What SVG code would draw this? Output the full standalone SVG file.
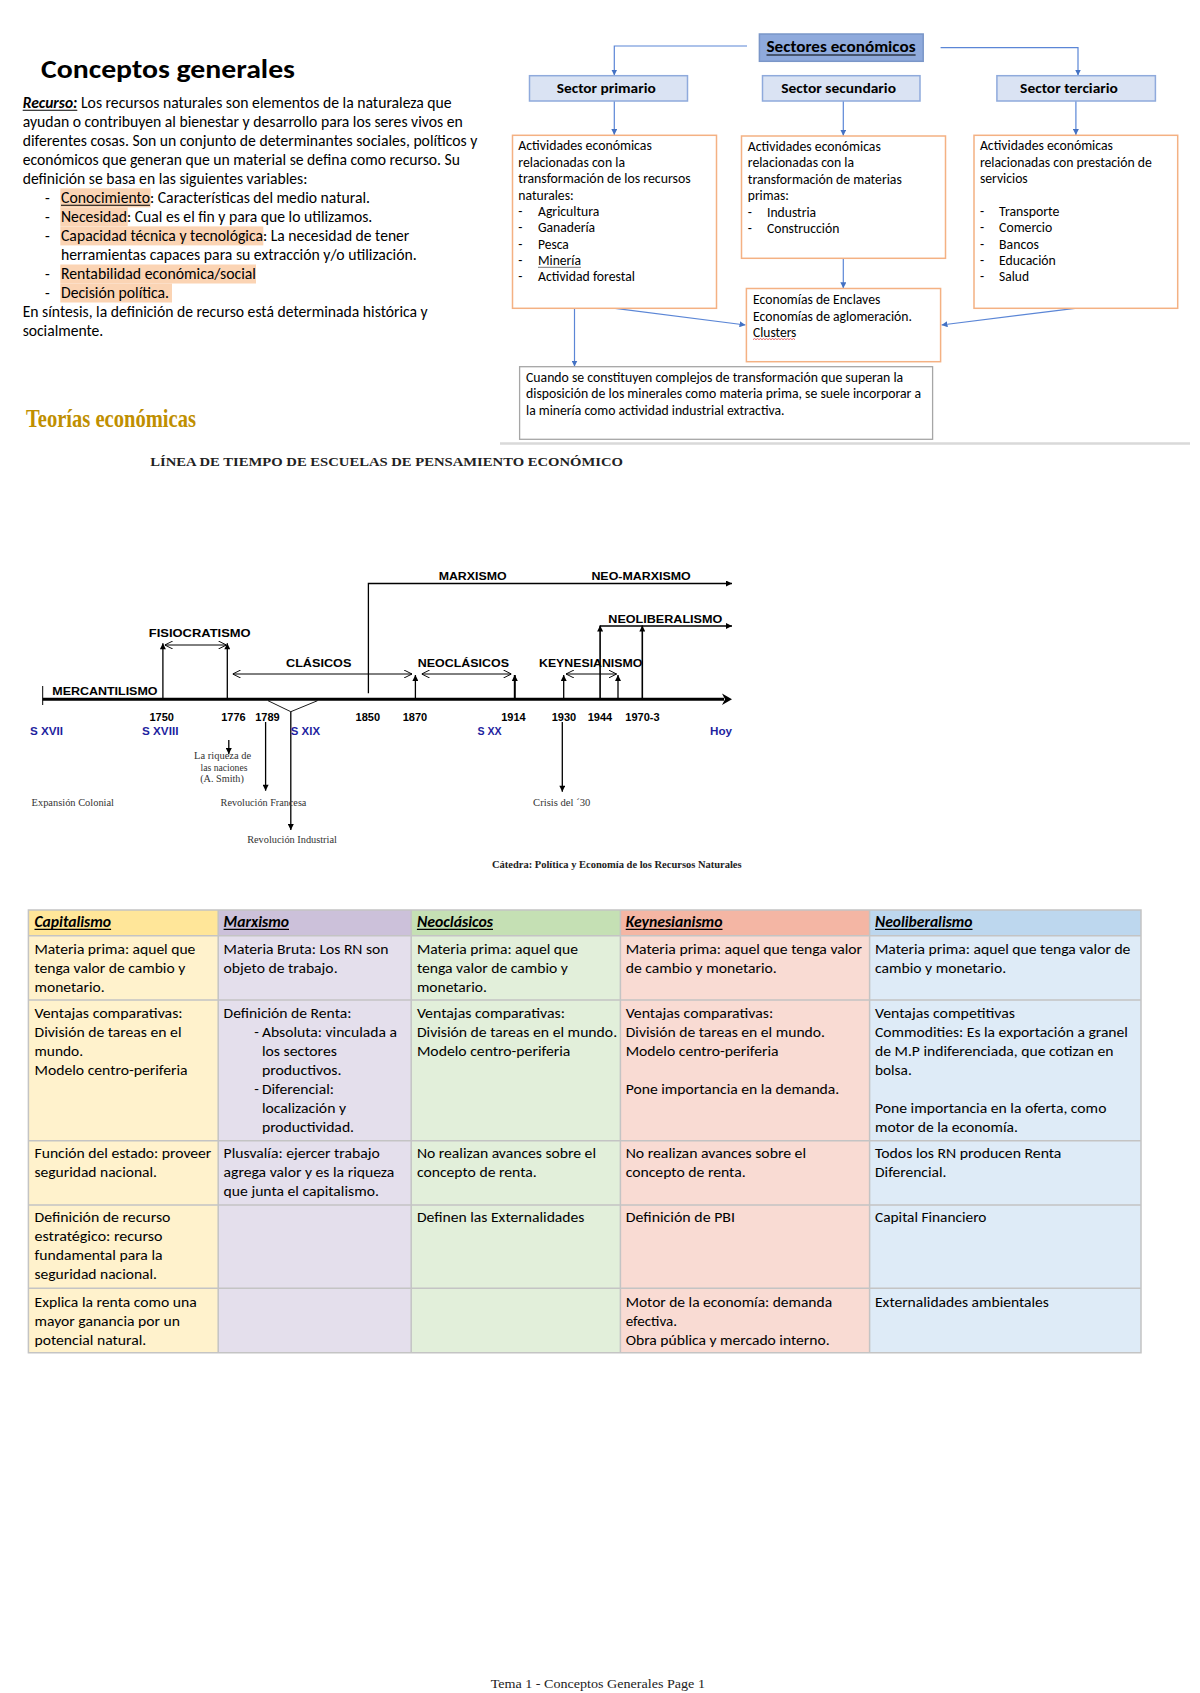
<svg xmlns="http://www.w3.org/2000/svg" width="1200" height="1693" viewBox="0 0 1200 1693">
<style>
text{font-family:Carlito,Lato,"Liberation Sans",sans-serif;fill:#000}
.t{font-size:15.5px}
.s{font-size:13.5px}
.sh{font-size:14.5px;font-weight:bold}
.tl{font-family:"Liberation Sans",Arial,sans-serif;font-size:11px;font-weight:bold}
.cen{font-family:"Liberation Sans",Arial,sans-serif;font-size:11px;font-weight:bold;fill:#1F1F9F}
.ser{font-family:"Liberation Serif","Times New Roman",serif;font-size:11px;fill:#333}
.tb{font-size:15px}
.th{font-size:15px;font-weight:bold;font-style:italic}
.hl{fill:#FBD4B4}
.ul{stroke:#000;stroke-width:1.1}
.box{fill:#fff;stroke:#F4B183;stroke-width:1.5}
.sec{fill:#DAE3F3;stroke:#8FAADC;stroke-width:1.5}
.bc{fill:none;stroke:#5B86D6;stroke-width:1.2}
.k{fill:none;stroke:#000;stroke-width:1.3}
.grid{fill:none;stroke:#C4C4C4;stroke-width:1.5}
</style>
<defs>
<marker id="ab" viewBox="0 0 10 10" refX="10" refY="5" markerWidth="6" markerHeight="6" markerUnits="userSpaceOnUse" orient="auto"><path d="M0,0 L10,5 L0,10 z" fill="#4472C4"/></marker>
<marker id="ak" viewBox="0 0 10 10" refX="10" refY="5" markerWidth="7" markerHeight="6" markerUnits="userSpaceOnUse" orient="auto"><path d="M0,0 L10,5 L0,10 z" fill="#000"/></marker>
<marker id="ao" viewBox="0 0 10 10" refX="10" refY="5" markerWidth="8" markerHeight="8" markerUnits="userSpaceOnUse" orient="auto-start-reverse"><path d="M0,0 L10,5 L0,10" fill="none" stroke="#000" stroke-width="1.2"/></marker>
</defs>

<!-- Conceptos generales -->
<g id="conceptos">
<text x="41" y="78" style="font-size:27px;font-weight:900" textLength="254" lengthAdjust="spacingAndGlyphs">Conceptos generales</text>
<rect class="hl" x="60.3" y="188.3" width="90.4" height="19"/>
<rect class="hl" x="60.3" y="207.3" width="67.4" height="19"/>
<rect class="hl" x="60.3" y="226.4" width="203" height="19"/>
<rect class="hl" x="60.3" y="264.5" width="195.7" height="19"/>
<rect class="hl" x="60.3" y="283.5" width="111.7" height="19"/>
<text class="t" x="22.7" y="107.5" style="font-weight:bold;font-style:italic" textLength="54.7" lengthAdjust="spacingAndGlyphs">Recurso:</text>
<line class="ul" x1="22.7" y1="110.3" x2="77.3" y2="110.3"/>
<text class="t" x="81" y="107.5" textLength="370.7" lengthAdjust="spacingAndGlyphs">Los recursos naturales son elementos de la naturaleza que</text>
<text class="t" x="22.7" y="126.6" textLength="440" lengthAdjust="spacingAndGlyphs">ayudan o contribuyen al bienestar y desarrollo para los seres vivos en</text>
<text class="t" x="22.7" y="145.6" textLength="454.7" lengthAdjust="spacingAndGlyphs">diferentes cosas. Son un conjunto de determinantes sociales, políticos y</text>
<text class="t" x="22.7" y="164.7" textLength="437.3" lengthAdjust="spacingAndGlyphs">económicos que generan que un material se defina como recurso. Su</text>
<text class="t" x="22.7" y="183.7" textLength="284.7" lengthAdjust="spacingAndGlyphs">definición se basa en las siguientes variables:</text>
<text class="t" x="45" y="202.8">-</text>
<text class="t" x="61" y="202.8" textLength="89" lengthAdjust="spacingAndGlyphs">Conocimiento</text>
<line class="ul" x1="61" y1="205.3" x2="150" y2="205.3"/>
<text class="t" x="150" y="202.8" textLength="220" lengthAdjust="spacingAndGlyphs">: Características del medio natural.</text>
<text class="t" x="45" y="221.8">-</text>
<text class="t" x="61" y="221.8" textLength="66" lengthAdjust="spacingAndGlyphs">Necesidad</text>
<text class="t" x="127" y="221.8" textLength="245.3" lengthAdjust="spacingAndGlyphs">: Cual es el fin y para que lo utilizamos.</text>
<text class="t" x="45" y="240.9">-</text>
<text class="t" x="61" y="240.9" textLength="202" lengthAdjust="spacingAndGlyphs">Capacidad técnica y tecnológica</text>
<text class="t" x="263" y="240.9" textLength="146.3" lengthAdjust="spacingAndGlyphs">: La necesidad de tener</text>
<text class="t" x="61" y="259.9" textLength="355.7" lengthAdjust="spacingAndGlyphs">herramientas capaces para su extracción y/o utilización.</text>
<text class="t" x="45" y="279">-</text>
<text class="t" x="61" y="279" textLength="195" lengthAdjust="spacingAndGlyphs">Rentabilidad económica/social</text>
<text class="t" x="45" y="298">-</text>
<text class="t" x="61" y="298" textLength="108" lengthAdjust="spacingAndGlyphs">Decisión política.</text>
<text class="t" x="22.7" y="317" textLength="405" lengthAdjust="spacingAndGlyphs">En síntesis, la definición de recurso está determinada histórica y</text>
<text class="t" x="22.7" y="336.1" textLength="80.6" lengthAdjust="spacingAndGlyphs">socialmente.</text>
</g>

<!-- Sectores connectors -->
<g id="sector-connectors">
<path class="bc" d="M747,46 H614.3 V75.5" marker-end="url(#ab)"/>
<path class="bc" d="M940.6,47.7 H1078 V75.5" marker-end="url(#ab)"/>
<path class="bc" d="M614.3,101 V135" marker-end="url(#ab)"/>
<path class="bc" d="M843.3,101 V135.7" marker-end="url(#ab)"/>
<path class="bc" d="M1075.9,101 V135" marker-end="url(#ab)"/>
<path class="bc" d="M843.3,258.3 V288.3" marker-end="url(#ab)"/>
<path class="bc" d="M615.2,308.3 L745.5,325" marker-end="url(#ab)"/>
<path class="bc" d="M1075,308.3 L941.5,325" marker-end="url(#ab)"/>
<path class="bc" d="M574.5,267 V366.5" marker-end="url(#ab)"/>
</g>

<g id="sectores-economicos">
<rect x="759.4" y="34" width="163.8" height="27.3" fill="#8FAADC" stroke="#7A96C8" stroke-width="1.5"/>
<text x="841" y="52.3" text-anchor="middle" style="font-size:15.5px;font-weight:bold" textLength="149" lengthAdjust="spacingAndGlyphs">Sectores económicos</text>
<line class="ul" x1="766.5" y1="55" x2="915.6" y2="55"/>
</g>
<g id="sector-primario">
<rect class="sec" x="529.5" y="75.7" width="158" height="25.3"/>
<text class="sh" x="606.2" y="93.3" text-anchor="middle" textLength="99" lengthAdjust="spacingAndGlyphs">Sector primario</text>
</g>
<g id="sector-secundario">
<rect class="sec" x="762.5" y="75.7" width="157.5" height="25.3"/>
<text class="sh" x="838.6" y="93.3" text-anchor="middle" textLength="114.7" lengthAdjust="spacingAndGlyphs">Sector secundario</text>
</g>
<g id="sector-terciario">
<rect class="sec" x="996.9" y="75.7" width="158.5" height="25.3"/>
<text class="sh" x="1069" y="93.3" text-anchor="middle" textLength="97.8" lengthAdjust="spacingAndGlyphs">Sector terciario</text>
</g>

<g id="act-primario">
<rect class="box" x="512.5" y="135.3" width="204" height="173"/>
<text class="s" x="518.3" y="150" textLength="133.5" lengthAdjust="spacingAndGlyphs">Actividades económicas</text>
<text class="s" x="518.3" y="166.5" textLength="106.7" lengthAdjust="spacingAndGlyphs">relacionadas con la</text>
<text class="s" x="518.3" y="183" textLength="172.3" lengthAdjust="spacingAndGlyphs">transformación de los recursos</text>
<text class="s" x="518.3" y="199.5" textLength="55.4" lengthAdjust="spacingAndGlyphs">naturales:</text>
<text class="s" x="518.3" y="216">-</text><text class="s" x="538" y="216" textLength="61.2" lengthAdjust="spacingAndGlyphs">Agricultura</text>
<text class="s" x="518.3" y="232.3">-</text><text class="s" x="538" y="232.3" textLength="57.1" lengthAdjust="spacingAndGlyphs">Ganadería</text>
<text class="s" x="518.3" y="248.7">-</text><text class="s" x="538" y="248.7" textLength="30.8" lengthAdjust="spacingAndGlyphs">Pesca</text>
<text class="s" x="518.3" y="265">-</text><text class="s" x="538" y="265" textLength="42.9" lengthAdjust="spacingAndGlyphs">Minería</text>
<line x1="538" y1="267.3" x2="581" y2="267.3" stroke="#555" stroke-width="0.8"/>
<text class="s" x="518.3" y="281.3">-</text><text class="s" x="538" y="281.3" textLength="96.9" lengthAdjust="spacingAndGlyphs">Actividad forestal</text>
</g>

<g id="act-secundario">
<rect class="box" x="741.5" y="136" width="204" height="122.3"/>
<text class="s" x="747.8" y="150.7" textLength="133" lengthAdjust="spacingAndGlyphs">Actividades económicas</text>
<text class="s" x="747.8" y="167.2" textLength="106.3" lengthAdjust="spacingAndGlyphs">relacionadas con la</text>
<text class="s" x="747.8" y="183.7" textLength="154" lengthAdjust="spacingAndGlyphs">transformación de materias</text>
<text class="s" x="747.8" y="200.2" textLength="41.1" lengthAdjust="spacingAndGlyphs">primas:</text>
<text class="s" x="747.8" y="216.7">-</text><text class="s" x="767" y="216.7" textLength="49.1" lengthAdjust="spacingAndGlyphs">Industria</text>
<text class="s" x="747.8" y="233">-</text><text class="s" x="767" y="233" textLength="72.3" lengthAdjust="spacingAndGlyphs">Construcción</text>
</g>

<g id="act-terciario">
<rect class="box" x="974" y="135.3" width="203.7" height="173"/>
<text class="s" x="979.9" y="150" textLength="133" lengthAdjust="spacingAndGlyphs">Actividades económicas</text>
<text class="s" x="979.9" y="166.5" textLength="171.9" lengthAdjust="spacingAndGlyphs">relacionadas con prestación de</text>
<text class="s" x="979.9" y="183" textLength="47.8" lengthAdjust="spacingAndGlyphs">servicios</text>
<text class="s" x="979.9" y="216">-</text><text class="s" x="999.1" y="216" textLength="60.3" lengthAdjust="spacingAndGlyphs">Transporte</text>
<text class="s" x="979.9" y="232.3">-</text><text class="s" x="999.1" y="232.3" textLength="53.1" lengthAdjust="spacingAndGlyphs">Comercio</text>
<text class="s" x="979.9" y="248.7">-</text><text class="s" x="999.1" y="248.7" textLength="39.7" lengthAdjust="spacingAndGlyphs">Bancos</text>
<text class="s" x="979.9" y="265">-</text><text class="s" x="999.1" y="265" textLength="56.7" lengthAdjust="spacingAndGlyphs">Educación</text>
<text class="s" x="979.9" y="281.3">-</text><text class="s" x="999.1" y="281.3" textLength="29.9" lengthAdjust="spacingAndGlyphs">Salud</text>
</g>

<g id="economias">
<rect class="box" x="746.4" y="288.5" width="194.2" height="73.2"/>
<text class="s" x="753.1" y="304" textLength="127.2" lengthAdjust="spacingAndGlyphs">Economías de Enclaves</text>
<text class="s" x="753.1" y="320.5" textLength="158.9" lengthAdjust="spacingAndGlyphs">Economías de aglomeración.</text>
<text class="s" x="753.1" y="336.7" textLength="43.3" lengthAdjust="spacingAndGlyphs">Clusters</text>
<path d="M753,339.6 l1.5,-1 1.5,1 1.5,-1 1.5,1 1.5,-1 1.5,1 1.5,-1 1.5,1 1.5,-1 1.5,1 1.5,-1 1.5,1 1.5,-1 1.5,1 1.5,-1 1.5,1 1.5,-1 1.5,1 1.5,-1 1.5,1 1.5,-1 1.5,1 1.5,-1 1.5,1 1.5,-1 1.5,1 1.5,-1 1.5,1" fill="none" stroke="#E04040" stroke-width="0.8"/>
</g>

<g id="mineria-nota">
<rect x="519.6" y="366.7" width="413" height="72.6" fill="#fff" stroke="#A6A6A6" stroke-width="1.3"/>
<text class="s" x="526" y="381.7" textLength="377.2" lengthAdjust="spacingAndGlyphs">Cuando se constituyen complejos de transformación que superan la</text>
<text class="s" x="526" y="398.3" textLength="395.1" lengthAdjust="spacingAndGlyphs">disposición de los minerales como materia prima, se suele incorporar a</text>
<text class="s" x="526" y="415" textLength="258.5" lengthAdjust="spacingAndGlyphs">la minería como actividad industrial extractiva.</text>
</g>

<line x1="500" y1="443.5" x2="1190" y2="443.5" stroke="#D9D9D9" stroke-width="2.5"/>

<!-- Teorías -->
<text x="26" y="427.3" style="font-family:'Liberation Serif',serif;font-size:25px;font-weight:bold;fill:#BF8F00" textLength="170" lengthAdjust="spacingAndGlyphs">Teorías económicas</text>
<text x="150.3" y="466" style="font-family:'Liberation Serif',serif;font-size:13px;font-weight:bold;fill:#222" textLength="472.6" lengthAdjust="spacingAndGlyphs">LÍNEA DE TIEMPO DE ESCUELAS DE PENSAMIENTO ECONÓMICO</text>

<!-- Timeline -->
<g id="timeline-connectors">
<line x1="42.7" y1="699.3" x2="724" y2="699.3" stroke="#000" stroke-width="3"/>
<path d="M722,693.5 L732,699.3 L722,705 L725,699.3 z" fill="#000"/>
<line x1="42.7" y1="686" x2="42.7" y2="705" stroke="#000" stroke-width="1"/>
<path class="k" d="M162.9,698 V643.3" marker-end="url(#ak)"/>
<path class="k" d="M227.3,698 V643.3" marker-end="url(#ak)"/>
<path class="k" d="M415.4,698 V675" marker-end="url(#ak)"/>
<path class="k" d="M514.8,698 V675" style="stroke-width:2" marker-end="url(#ak)"/>
<path class="k" d="M563.7,698 V675" marker-end="url(#ak)"/>
<path class="k" d="M618,698 V675" marker-end="url(#ak)"/>
<path class="k" d="M600.1,698 V625.5" style="stroke-width:1.6" marker-end="url(#ak)"/>
<path class="k" d="M642.3,698 V625.5" style="stroke-width:1.6" marker-end="url(#ak)"/>
<path class="k" d="M368.4,693.3 V583.5 H732" marker-end="url(#ak)"/>
<path class="k" d="M600,626 H732" marker-end="url(#ak)"/>
<path d="M164.8,645 H226.4" fill="none" stroke="#000" stroke-width="1" marker-start="url(#ao)" marker-end="url(#ao)"/>
<path d="M232.7,674 H412" fill="none" stroke="#000" stroke-width="1" marker-start="url(#ao)" marker-end="url(#ao)"/>
<path d="M421.7,674 H511.4" fill="none" stroke="#000" stroke-width="1" marker-start="url(#ao)" marker-end="url(#ao)"/>
<path d="M566,674 H616.6" fill="none" stroke="#000" stroke-width="1" marker-start="url(#ao)" marker-end="url(#ao)"/>
<path d="M268,700.7 L290.8,711.7 L317.5,700.7" fill="none" stroke="#000" stroke-width="0.9"/>
<path class="k" d="M290.8,711.7 V830" marker-end="url(#ak)"/>
<path class="k" d="M228.8,740 V754" marker-end="url(#ak)"/>
<path class="k" d="M265.6,722 V790.7" marker-end="url(#ak)"/>
<path class="k" d="M562.3,722 V791.7" marker-end="url(#ak)"/>
</g>

<g id="timeline-labels">
<text class="tl" x="52.3" y="695" textLength="105.2" lengthAdjust="spacingAndGlyphs">MERCANTILISMO</text>
<text class="tl" x="148.8" y="637.3" textLength="101.8" lengthAdjust="spacingAndGlyphs">FISIOCRATISMO</text>
<text class="tl" x="286" y="666.7" textLength="65.4" lengthAdjust="spacingAndGlyphs">CLÁSICOS</text>
<text class="tl" x="417.8" y="666.7" textLength="91.2" lengthAdjust="spacingAndGlyphs">NEOCLÁSICOS</text>
<text class="tl" x="539" y="666.7" textLength="103.3" lengthAdjust="spacingAndGlyphs">KEYNESIANISMO</text>
<text class="tl" x="608.3" y="623" textLength="114" lengthAdjust="spacingAndGlyphs">NEOLIBERALISMO</text>
<text class="tl" x="438.7" y="580.3" textLength="67.8" lengthAdjust="spacingAndGlyphs">MARXISMO</text>
<text class="tl" x="591.4" y="580.3" textLength="99.3" lengthAdjust="spacingAndGlyphs">NEO-MARXISMO</text>
<g text-anchor="middle">
<text class="tl" x="161.7" y="720.8">1750</text>
<text class="tl" x="233.4" y="720.8">1776</text>
<text class="tl" x="267.4" y="720.8">1789</text>
<text class="tl" x="367.8" y="720.8">1850</text>
<text class="tl" x="415" y="720.8">1870</text>
<text class="tl" x="513.5" y="720.8">1914</text>
<text class="tl" x="564" y="720.8">1930</text>
<text class="tl" x="600" y="720.8">1944</text>
<text class="tl" x="642.5" y="720.8">1970-3</text>
</g>
<text class="cen" x="30" y="735" textLength="33" lengthAdjust="spacingAndGlyphs">S XVII</text>
<text class="cen" x="142" y="735" textLength="36.4" lengthAdjust="spacingAndGlyphs">S XVIII</text>
<text class="cen" x="290.8" y="735" textLength="29.2" lengthAdjust="spacingAndGlyphs">S XIX</text>
<text class="cen" x="477.5" y="735" textLength="24.2" lengthAdjust="spacingAndGlyphs">S XX</text>
<text class="cen" x="710" y="735" textLength="22" lengthAdjust="spacingAndGlyphs">Hoy</text>
<g text-anchor="middle">
<text class="ser" x="222.6" y="759.3" textLength="57" lengthAdjust="spacingAndGlyphs">La riqueza de</text>
<text class="ser" x="224" y="770.7" textLength="47" lengthAdjust="spacingAndGlyphs">las naciones</text>
<text class="ser" x="222" y="782.3" textLength="43.6" lengthAdjust="spacingAndGlyphs">(A. Smith)</text>
<text class="ser" x="72.8" y="806" textLength="82.4" lengthAdjust="spacingAndGlyphs">Expansión Colonial</text>
<text class="ser" x="263.5" y="806" textLength="85.8" lengthAdjust="spacingAndGlyphs">Revolución Francesa</text>
<text class="ser" x="561.7" y="806" textLength="57.2" lengthAdjust="spacingAndGlyphs">Crisis del ´30</text>
<text class="ser" x="292" y="842.7" textLength="89.7" lengthAdjust="spacingAndGlyphs">Revolución Industrial</text>
<text class="ser" x="616.8" y="868.3" style="font-weight:bold;font-size:10.5px;fill:#222" textLength="249.6" lengthAdjust="spacingAndGlyphs">Cátedra: Política y Economía de los Recursos Naturales</text>
</g>
</g>

<!-- Table -->
<g id="tabla">
<rect x="28.4" y="910" width="189.8" height="25.7" fill="#FFE699"/>
<rect x="218.2" y="910" width="193" height="25.7" fill="#CCC1DA"/>
<rect x="411.2" y="910" width="209.2" height="25.7" fill="#C5E0B4"/>
<rect x="620.4" y="910" width="249.2" height="25.7" fill="#F4B6A4"/>
<rect x="869.6" y="910" width="271.4" height="25.7" fill="#BDD7EE"/>
<rect x="28.4" y="935.7" width="189.8" height="417" fill="#FFF2CC"/>
<rect x="218.2" y="935.7" width="193" height="417" fill="#E4DFEC"/>
<rect x="411.2" y="935.7" width="209.2" height="417" fill="#E2EFDA"/>
<rect x="620.4" y="935.7" width="249.2" height="417" fill="#F9DBD3"/>
<rect x="869.6" y="935.7" width="271.4" height="417" fill="#DEEBF7"/>
<path class="grid" d="M28.4,910 H1141 V1352.7 H28.4 Z M218.2,910 V1352.7 M411.2,910 V1352.7 M620.4,910 V1352.7 M869.6,910 V1352.7 M28.4,935.7 H1141 M28.4,1000 H1141 M28.4,1140.7 H1141 M28.4,1205 H1141 M28.4,1288.3 H1141"/>

<text class="th" x="34.5" y="926.7" textLength="76.6" lengthAdjust="spacingAndGlyphs">Capitalismo</text>
<line class="ul" x1="34.5" y1="929.4" x2="111.1" y2="929.4"/>
<text class="th" x="223.6" y="926.7" textLength="65.4" lengthAdjust="spacingAndGlyphs">Marxismo</text>
<line class="ul" x1="223.6" y1="929.4" x2="289" y2="929.4"/>
<text class="th" x="416.9" y="926.7" textLength="76.1" lengthAdjust="spacingAndGlyphs">Neoclásicos</text>
<line class="ul" x1="416.9" y1="929.4" x2="493" y2="929.4"/>
<text class="th" x="625.7" y="926.7" textLength="96.8" lengthAdjust="spacingAndGlyphs">Keynesianismo</text>
<line class="ul" x1="625.7" y1="929.4" x2="722.5" y2="929.4"/>
<text class="th" x="875" y="926.7" textLength="97.5" lengthAdjust="spacingAndGlyphs">Neoliberalismo</text>
<line class="ul" x1="875" y1="929.4" x2="972.5" y2="929.4"/>

<!-- row 1 -->
<text class="tb" x="34.5" y="954.3" textLength="160.8" lengthAdjust="spacingAndGlyphs">Materia prima: aquel que</text>
<text class="tb" x="34.5" y="973.3" textLength="150.8" lengthAdjust="spacingAndGlyphs">tenga valor de cambio y</text>
<text class="tb" x="34.5" y="992.3" textLength="70.1" lengthAdjust="spacingAndGlyphs">monetario.</text>
<text class="tb" x="223.6" y="954.3" textLength="164.9" lengthAdjust="spacingAndGlyphs">Materia Bruta: Los RN son</text>
<text class="tb" x="223.6" y="973.3" textLength="114" lengthAdjust="spacingAndGlyphs">objeto de trabajo.</text>
<text class="tb" x="416.9" y="954.3" textLength="161" lengthAdjust="spacingAndGlyphs">Materia prima: aquel que</text>
<text class="tb" x="416.9" y="973.3" textLength="151" lengthAdjust="spacingAndGlyphs">tenga valor de cambio y</text>
<text class="tb" x="416.9" y="992.3" textLength="70" lengthAdjust="spacingAndGlyphs">monetario.</text>
<text class="tb" x="625.7" y="954.3" textLength="236.4" lengthAdjust="spacingAndGlyphs">Materia prima: aquel que tenga valor</text>
<text class="tb" x="625.7" y="973.3" textLength="151.1" lengthAdjust="spacingAndGlyphs">de cambio y monetario.</text>
<text class="tb" x="875" y="954.3" textLength="255.4" lengthAdjust="spacingAndGlyphs">Materia prima: aquel que tenga valor de</text>
<text class="tb" x="875" y="973.3" textLength="131.1" lengthAdjust="spacingAndGlyphs">cambio y monetario.</text>

<!-- row 2 -->
<text class="tb" x="34.5" y="1018.3" textLength="148.1" lengthAdjust="spacingAndGlyphs">Ventajas comparativas:</text>
<text class="tb" x="34.5" y="1037.3" textLength="147" lengthAdjust="spacingAndGlyphs">División de tareas en el</text>
<text class="tb" x="34.5" y="1056.3" textLength="48.6" lengthAdjust="spacingAndGlyphs">mundo.</text>
<text class="tb" x="34.5" y="1075.3" textLength="153.1" lengthAdjust="spacingAndGlyphs">Modelo centro-periferia</text>
<text class="tb" x="223.6" y="1018.3" textLength="127.8" lengthAdjust="spacingAndGlyphs">Definición de Renta:</text>
<text class="tb" x="254.2" y="1037.3">-</text>
<text class="tb" x="261.9" y="1037.3" textLength="135.1" lengthAdjust="spacingAndGlyphs">Absoluta: vinculada a</text>
<text class="tb" x="261.9" y="1056.3" textLength="75" lengthAdjust="spacingAndGlyphs">los sectores</text>
<text class="tb" x="261.9" y="1075.3" textLength="79.6" lengthAdjust="spacingAndGlyphs">productivos.</text>
<text class="tb" x="254.2" y="1094.3">-</text>
<text class="tb" x="261.9" y="1094.3" textLength="72" lengthAdjust="spacingAndGlyphs">Diferencial:</text>
<text class="tb" x="261.9" y="1113.3" textLength="84.2" lengthAdjust="spacingAndGlyphs">localización y</text>
<text class="tb" x="261.9" y="1132.3" textLength="92.2" lengthAdjust="spacingAndGlyphs">productividad.</text>
<text class="tb" x="416.9" y="1018.3" textLength="148.1" lengthAdjust="spacingAndGlyphs">Ventajas comparativas:</text>
<text class="tb" x="416.9" y="1037.3" textLength="200.2" lengthAdjust="spacingAndGlyphs">División de tareas en el mundo.</text>
<text class="tb" x="416.9" y="1056.3" textLength="153.5" lengthAdjust="spacingAndGlyphs">Modelo centro-periferia</text>
<text class="tb" x="625.7" y="1018.3" textLength="147.5" lengthAdjust="spacingAndGlyphs">Ventajas comparativas:</text>
<text class="tb" x="625.7" y="1037.3" textLength="199.3" lengthAdjust="spacingAndGlyphs">División de tareas en el mundo.</text>
<text class="tb" x="625.7" y="1056.3" textLength="152.9" lengthAdjust="spacingAndGlyphs">Modelo centro-periferia</text>
<text class="tb" x="625.7" y="1094.3" textLength="213.6" lengthAdjust="spacingAndGlyphs">Pone importancia en la demanda.</text>
<text class="tb" x="875" y="1018.3" textLength="140" lengthAdjust="spacingAndGlyphs">Ventajas competitivas</text>
<text class="tb" x="875" y="1037.3" textLength="252.9" lengthAdjust="spacingAndGlyphs">Commodities: Es la exportación a granel</text>
<text class="tb" x="875" y="1056.3" textLength="238.6" lengthAdjust="spacingAndGlyphs">de M.P indiferenciada, que cotizan en</text>
<text class="tb" x="875" y="1075.3" textLength="36.8" lengthAdjust="spacingAndGlyphs">bolsa.</text>
<text class="tb" x="875" y="1113.3" textLength="231.4" lengthAdjust="spacingAndGlyphs">Pone importancia en la oferta, como</text>
<text class="tb" x="875" y="1132.3" textLength="142.9" lengthAdjust="spacingAndGlyphs">motor de la economía.</text>

<!-- row 3 -->
<text class="tb" x="34.5" y="1158.3" textLength="176.8" lengthAdjust="spacingAndGlyphs">Función del estado: proveer</text>
<text class="tb" x="34.5" y="1177.3" textLength="122.5" lengthAdjust="spacingAndGlyphs">seguridad nacional.</text>
<text class="tb" x="223.6" y="1158.3" textLength="156.1" lengthAdjust="spacingAndGlyphs">Plusvalía: ejercer trabajo</text>
<text class="tb" x="223.6" y="1177.3" textLength="170.7" lengthAdjust="spacingAndGlyphs">agrega valor y es la riqueza</text>
<text class="tb" x="223.6" y="1196.3" textLength="155.3" lengthAdjust="spacingAndGlyphs">que junta el capitalismo.</text>
<text class="tb" x="416.9" y="1158.3" textLength="179.1" lengthAdjust="spacingAndGlyphs">No realizan avances sobre el</text>
<text class="tb" x="416.9" y="1177.3" textLength="119.8" lengthAdjust="spacingAndGlyphs">concepto de renta.</text>
<text class="tb" x="625.7" y="1158.3" textLength="180.4" lengthAdjust="spacingAndGlyphs">No realizan avances sobre el</text>
<text class="tb" x="625.7" y="1177.3" textLength="120" lengthAdjust="spacingAndGlyphs">concepto de renta.</text>
<text class="tb" x="875" y="1158.3" textLength="186.4" lengthAdjust="spacingAndGlyphs">Todos los RN producen Renta</text>
<text class="tb" x="875" y="1177.3" textLength="71.4" lengthAdjust="spacingAndGlyphs">Diferencial.</text>

<!-- row 4 -->
<text class="tb" x="34.5" y="1222.3" textLength="135.9" lengthAdjust="spacingAndGlyphs">Definición de recurso</text>
<text class="tb" x="34.5" y="1241.3" textLength="128" lengthAdjust="spacingAndGlyphs">estratégico: recurso</text>
<text class="tb" x="34.5" y="1260.3" textLength="128" lengthAdjust="spacingAndGlyphs">fundamental para la</text>
<text class="tb" x="34.5" y="1279.3" textLength="122.5" lengthAdjust="spacingAndGlyphs">seguridad nacional.</text>
<text class="tb" x="416.9" y="1222.3" textLength="167.6" lengthAdjust="spacingAndGlyphs">Definen las Externalidades</text>
<text class="tb" x="625.7" y="1222.3" textLength="109.3" lengthAdjust="spacingAndGlyphs">Definición de PBI</text>
<text class="tb" x="875" y="1222.3" textLength="111.4" lengthAdjust="spacingAndGlyphs">Capital Financiero</text>

<!-- row 5 -->
<text class="tb" x="34.5" y="1306.7" textLength="162.3" lengthAdjust="spacingAndGlyphs">Explica la renta como una</text>
<text class="tb" x="34.5" y="1325.7" textLength="145.4" lengthAdjust="spacingAndGlyphs">mayor ganancia por un</text>
<text class="tb" x="34.5" y="1344.7" textLength="111.7" lengthAdjust="spacingAndGlyphs">potencial natural.</text>
<text class="tb" x="625.7" y="1306.7" textLength="206.4" lengthAdjust="spacingAndGlyphs">Motor de la economía: demanda</text>
<text class="tb" x="625.7" y="1325.7">efectiva.</text>
<text class="tb" x="625.7" y="1344.7" textLength="203.9" lengthAdjust="spacingAndGlyphs">Obra pública y mercado interno.</text>
<text class="tb" x="875" y="1306.7" textLength="173.9" lengthAdjust="spacingAndGlyphs">Externalidades ambientales</text>
</g>

<text x="597.8" y="1688" text-anchor="middle" style="font-family:'Liberation Serif',serif;font-size:12.5px;fill:#222" textLength="214.3" lengthAdjust="spacingAndGlyphs">Tema 1 - Conceptos Generales Page 1</text>
</svg>
